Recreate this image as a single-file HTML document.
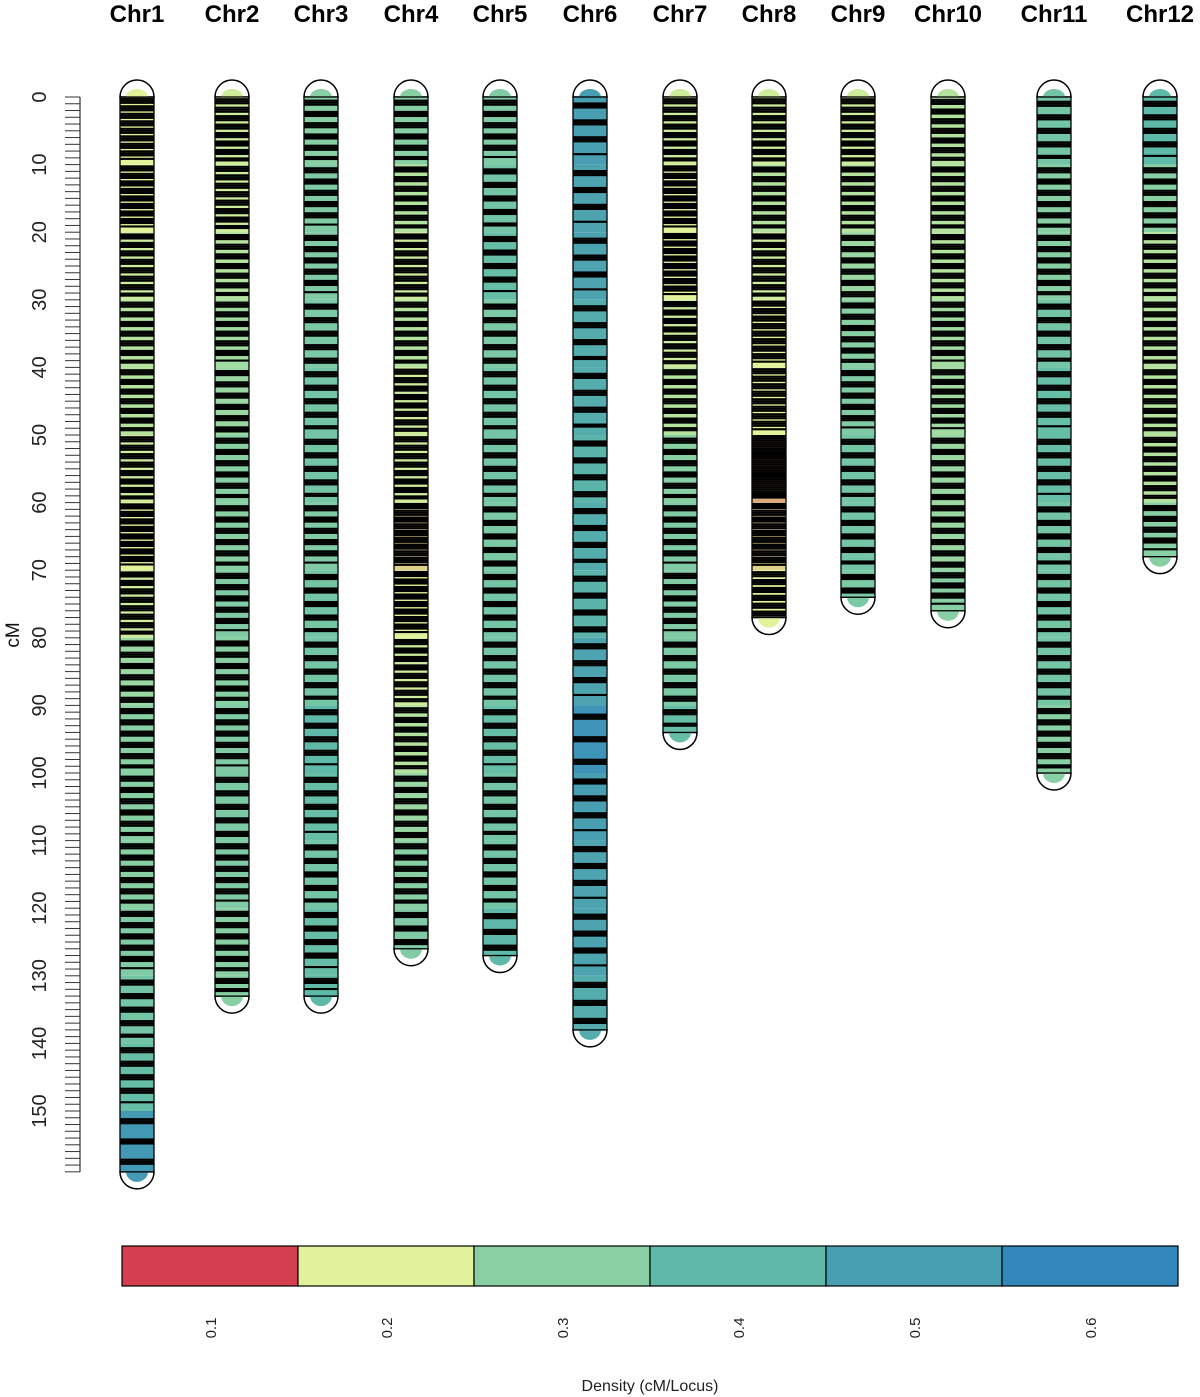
<!DOCTYPE html>
<html><head><meta charset="utf-8"><style>
html,body{margin:0;padding:0;background:#fff;}
svg{display:block;font-family:"Liberation Sans",sans-serif;}
</style></head><body>
<svg id="chart" width="1200" height="1397" viewBox="0 0 1200 1397" xmlns="http://www.w3.org/2000/svg">
<g id="axis"></g>
<g id="chroms"></g>
<g id="legend"></g>
</svg>
<script>
const chromNames=["Chr1","Chr2","Chr3","Chr4","Chr5","Chr6","Chr7","Chr8","Chr9","Chr10","Chr11","Chr12"];
const chromLengths=[159,133,133,126,127,138,94,77,74,76,100,68];
// density (cM/locus) per 10 cM bin
const chr1Density=[0.2,0.2,0.22,0.25,0.25,0.22,0.2,0.22,0.28,0.3,0.3,0.3,0.32,0.35,0.38,0.52];
const chr2Density=[0.22,0.22,0.25,0.27,0.28,0.3,0.3,0.32,0.3,0.32,0.33,0.32,0.3,0.3];
const chr3Density=[0.3,0.32,0.32,0.33,0.35,0.35,0.32,0.35,0.35,0.4,0.38,0.35,0.38,0.4];
const chr4Density=[0.3,0.25,0.22,0.25,0.22,0.22,0.18,0.2,0.22,0.25,0.28,0.3,0.32];
const chr5Density=[0.32,0.35,0.38,0.33,0.35,0.35,0.33,0.35,0.35,0.38,0.35,0.35,0.4];
const chr6Density=[0.5,0.48,0.48,0.45,0.45,0.42,0.45,0.42,0.48,0.55,0.5,0.48,0.48,0.45];
const chr7Density=[0.22,0.2,0.2,0.22,0.25,0.3,0.32,0.32,0.33,0.38];
const chr8Density=[0.22,0.25,0.22,0.2,0.2,0.16,0.18,0.2];
const chr9Density=[0.22,0.25,0.28,0.3,0.32,0.35,0.35,0.33];
const chr10Density=[0.25,0.25,0.25,0.27,0.27,0.28,0.28,0.3];
const chr11Density=[0.35,0.3,0.3,0.35,0.38,0.38,0.35,0.35,0.35,0.3];
const chr12Density=[0.4,0.3,0.25,0.25,0.25,0.25,0.3];
const densities=[chr1Density,chr2Density,chr3Density,chr4Density,chr5Density,chr6Density,chr7Density,chr8Density,chr9Density,chr10Density,chr11Density,chr12Density];
const yTicks=[0,10,20,30,40,50,60,70,80,90,100,110,120,130,140,150];
const legendValues=[0.1,0.2,0.3,0.4,0.5,0.6];
const legendLabels=["0.1","0.2","0.3","0.4","0.5","0.6"];
const legendColors=["#d53e4f","#e0f39a","#88d0a4","#5fb9a8","#489fb2","#3288bd"];

const NS="http://www.w3.org/2000/svg";
const chromX=[137,232,321,411,500,590,680,769,858,948,1054,1160];
const W=34, Y0=97, PX=6.76;
const y=cm=>Y0+cm*PX;
function mk(tag,attrs,parent){const e=document.createElementNS(NS,tag);for(const k in attrs)e.setAttribute(k,attrs[k]);parent.appendChild(e);return e;}
function hex(c){return [1,3,5].map(i=>parseInt(c.substr(i,2),16));}
function color(v){
  if(v<=legendValues[0])return legendColors[0];
  if(v>=legendValues[5])return legendColors[5];
  for(let i=0;i<5;i++){if(v<=legendValues[i+1]){const t=(v-legendValues[i])/(legendValues[i+1]-legendValues[i]);const a=hex(legendColors[i]),b=hex(legendColors[i+1]);return "rgb("+a.map((x,j)=>Math.round(x+(b[j]-x)*t)).join(",")+")";}}
}
// axis
const ax=document.getElementById('axis');
let l=mk('line',{x1:80,x2:80,y1:y(0),y2:y(159),stroke:"#333","stroke-width":1.2},ax);

for(let c=0;c<=159;c++){const t=mk('line',{x1:65,x2:80,y1:y(c),y2:y(c),stroke:"#333","stroke-width":1},ax);}
yTicks.forEach(v=>{const t=mk('text',{x:0,y:0,transform:`translate(46,${y(v)}) rotate(-90)`,"text-anchor":"middle","font-size":20,fill:"#222"},ax);t.textContent=v;});
const yt=mk('text',{transform:"translate(19,635) rotate(-90)","text-anchor":"middle","font-size":19,fill:"#111"},ax);yt.textContent="cM";

// chromosomes
const cg=document.getElementById('chroms');
chromNames.forEach((n,i)=>{
  const g=mk('g',{},cg);
  
  const cx=chromX[i],x0=cx-W/2,L=chromLengths[i],d=densities[i];
  const t=mk('text',{x:cx,y:22,"text-anchor":"middle","font-size":24,"font-weight":"bold",fill:"#000"},g);t.textContent=n;
  
  const r=W/2;
  mk('path',{d:`M${x0},${y(0)} A${r},${r} 0 0 1 ${x0+W},${y(0)} Z`,fill:"#fff",stroke:"#000","stroke-width":1.5},g);
  mk('path',{d:`M${cx-11},${y(0)} A11,8 0 0 1 ${cx+11},${y(0)} Z`,fill:color(d[0])},g);
  mk('path',{d:`M${x0},${y(L)} A${r},${r} 0 0 0 ${x0+W},${y(L)} Z`,fill:"#fff",stroke:"#000","stroke-width":1.5},g);
  mk('path',{d:`M${cx-11},${y(L)} A11,10 0 0 0 ${cx+11},${y(L)} Z`,fill:color(d[d.length-1])},g);
  let gi=0;
  d.forEach((v,b)=>{
    const s=b*10,e=Math.min(L,s+10);
    const seg=mk('rect',{x:x0,y:y(s),width:W,height:y(e)-y(s),fill:color(v)},g);
    
    const cnt=Math.round((e-s)/v*0.5);
    const groups=Math.ceil(cnt/3);
    for(let k=0;k<cnt;k++){
      const grp=Math.floor(k/3), w=k%3;
      const cm=s+(e-s)*(grp+0.5)/groups + (w-1)*0.3;
      if(cm<0||cm>L)continue;
      const m=mk('rect',{x:x0,y:y(cm)-1,width:W,height:2.1,fill:"#000"},g);
      
    }
  });
  mk('rect',{x:x0,y:y(0),width:W,height:y(L)-y(0),fill:"none",stroke:"#000","stroke-width":1.3},g);
});
// legend
const lg=document.getElementById('legend');
const lx=122,lw=1056/6;
legendColors.forEach((c,i)=>{
  const r=mk('rect',{x:lx+i*lw,y:1246,width:lw,height:40,fill:c,stroke:"#000","stroke-width":1.2},lg);
  
  const t=mk('text',{transform:`translate(${lx+i*lw+lw/2+6},1328) rotate(-90)`,"text-anchor":"middle","font-size":15,fill:"#222"},lg);t.textContent=legendLabels[i];
  
});
const lt=mk('text',{x:650,y:1391,"text-anchor":"middle","font-size":16,fill:"#222"},lg);lt.textContent="Density (cM/Locus)";

</script>
</body></html>
